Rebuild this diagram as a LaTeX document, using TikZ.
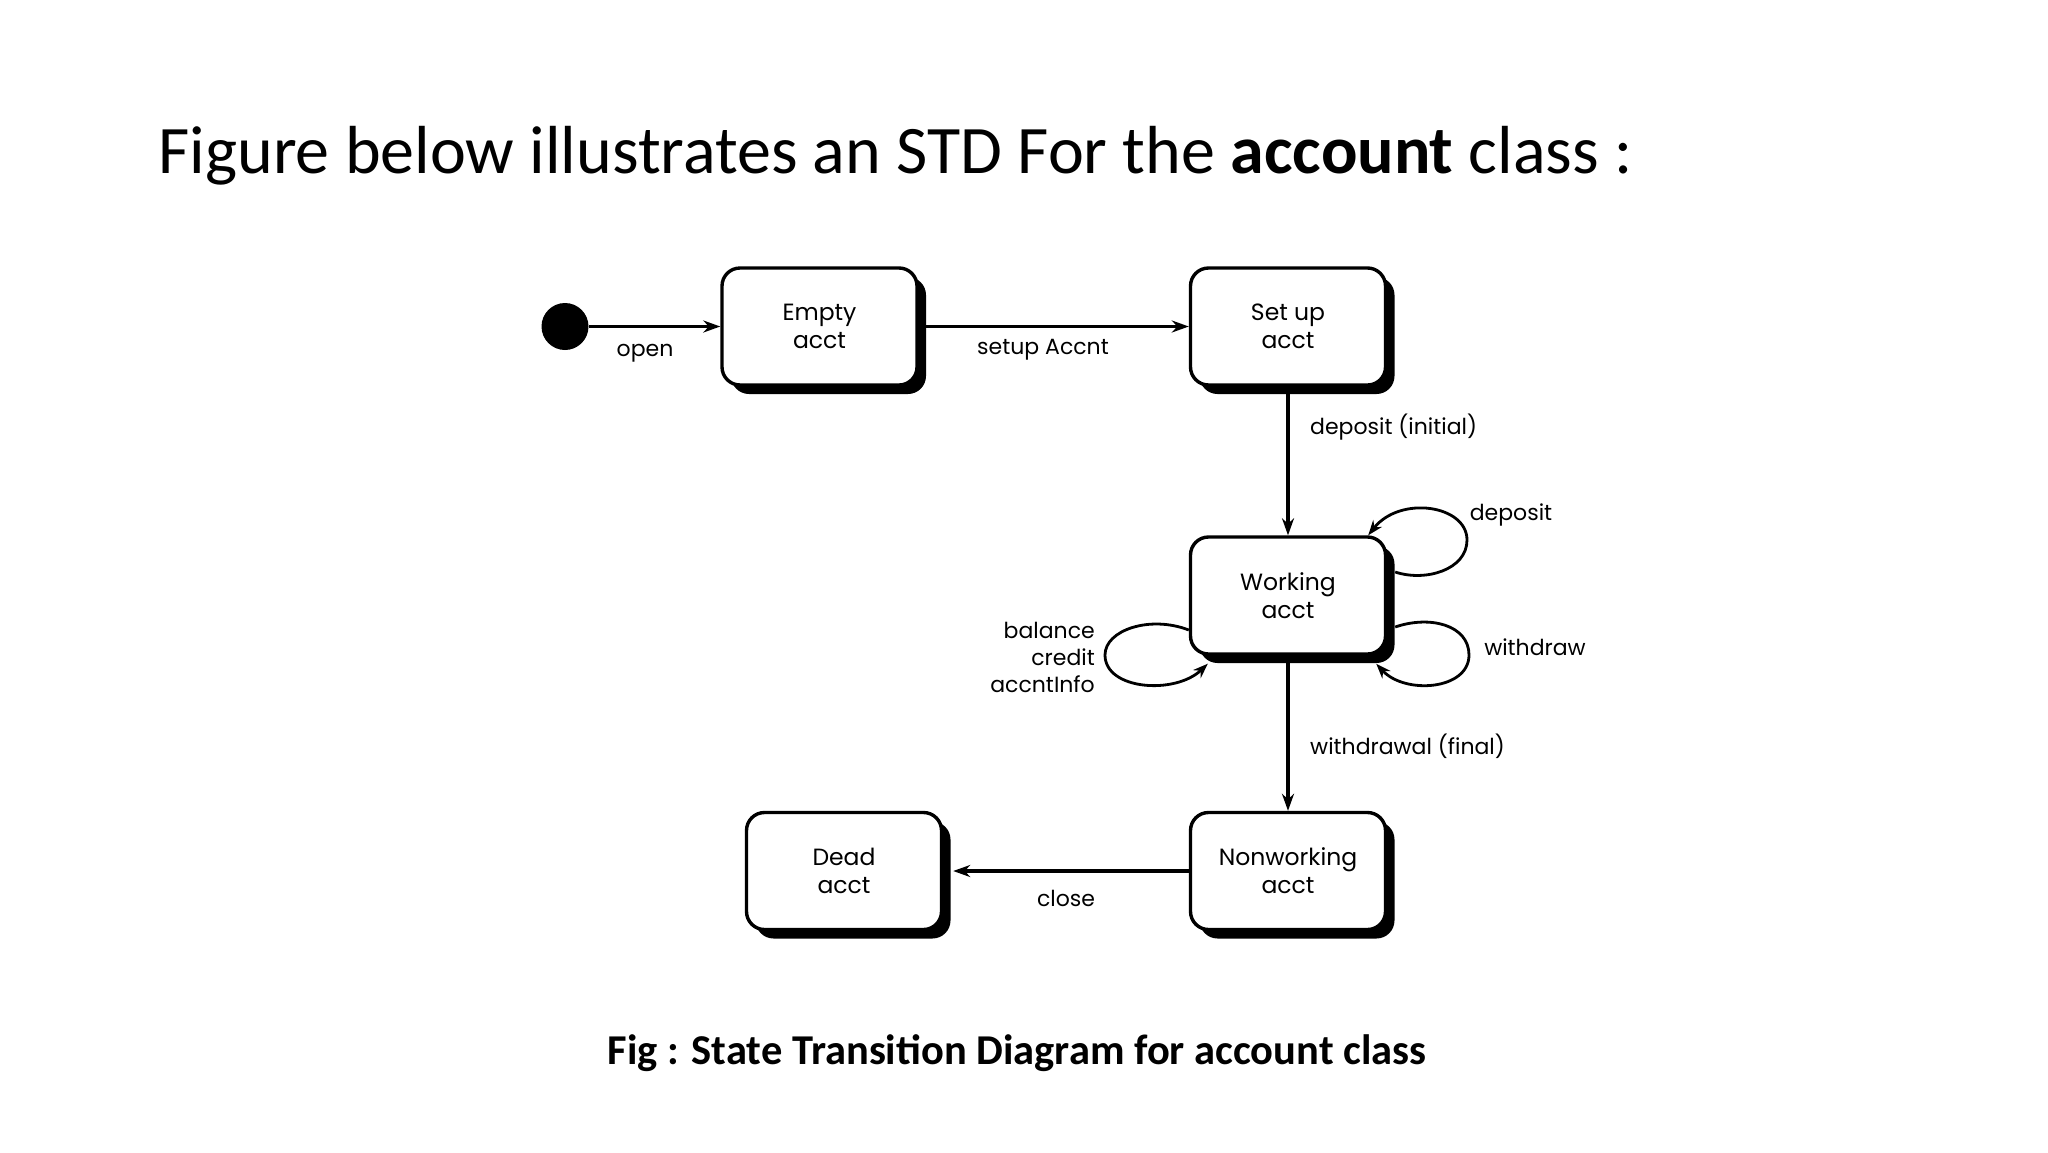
\documentclass[tikz,border=0pt]{standalone}
\usepackage{fontspec}
\setmainfont{Carlito}
\newfontfamily\diagfont{Poppins}
\usetikzlibrary{arrows.meta,shadows,calc}
\begin{document}
\begin{tikzpicture}[x=1pt,y=-1pt,
  state/.style={draw, line width=3.4pt, rounded corners=18pt, fill=white,
    minimum width=195pt, minimum height=117pt, align=center, inner sep=0pt,
    font=\diagfont\fontsize{23.5}{28}\selectfont,
    drop shadow={shadow xshift=9pt, shadow yshift=-9pt, opacity=1, fill=black}},
  trans/.style={line width=3.3pt, -{Stealth[length=17pt,width=12pt]}},
  selfloop/.style={line width=2.8pt, -{Stealth[length=15pt,width=11pt]}},
  lbl/.style={font=\diagfont\fontsize{22}{27}\selectfont, inner sep=0pt},
]
\useasboundingbox (0,0) rectangle (2048,1152);

\node[anchor=west, font=\fontsize{68}{76}\selectfont] (title) at (155,156)
  {Figure below illustrates an STD For the \textbf{account} class :};

\node[circle, fill=black, minimum size=47pt, inner sep=0pt] (init) at (565,326.5) {};
\node[state] (empty) at (819.5,326.5) {Empty\\acct};
\node[state] (setup) at (1288,326.5) {Set up\\acct};
\node[state] (work) at (1288,595.5) {Working\\acct};
\node[state] (nonw) at (1288,871) {Nonworking\\acct};
\node[state] (dead) at (844,871) {Dead\\acct};

\draw[trans] (init) -- (empty.west);
\draw[trans] (empty.east) -- (setup.west);
\draw[trans] (setup.south) -- (work.north);
\draw[trans] (work.south) -- (nonw.north);
\draw[trans] (nonw.west) -- ($(dead.east)+(10,0)$);

\draw[selfloop] ($(work.east)+(8,-23.5)$) .. controls (1425,582) and (1467,570) .. (1467,540)
  .. controls (1467,505) and (1400,495) .. ($(work.north east)+(-19,0)$);
\draw[selfloop] ($(work.east)+(8,31.5)$) .. controls (1430,615) and (1469,625) .. (1469,655)
  .. controls (1469,690) and (1405,695) .. ($(work.south east)+(-11,8)$);
\draw[selfloop] ($(work.west)+(0,34.5)$) .. controls (1150,615) and (1105,630) .. (1105,655)
  .. controls (1105,690) and (1175,695) .. ($(work.south west)+(19,8)$);

\node[lbl] (lopen) at (645,353) {open};
\node[lbl] (lsetup) at (1043,350) {setup Accnt};
\node[lbl, anchor=west] (ldepi) at (1310,427) {deposit (initial)};
\node[lbl] (ldep) at (1511,515) {deposit};
\node[lbl] (lwd) at (1535,647) {withdraw};
\node[lbl, anchor=east, align=right] (lbal) at (1095,657) {balance\\credit\\accntInfo};
\node[lbl, anchor=west] (lwdf) at (1310,746) {withdrawal (final)};
\node[lbl] (lclose) at (1066,898) {close};

\node[font=\bfseries\fontsize{42.5}{50}\selectfont] (cap) at (1017,1053)
  {Fig : State Transition Diagram for account class};
\end{tikzpicture}
\end{document}
